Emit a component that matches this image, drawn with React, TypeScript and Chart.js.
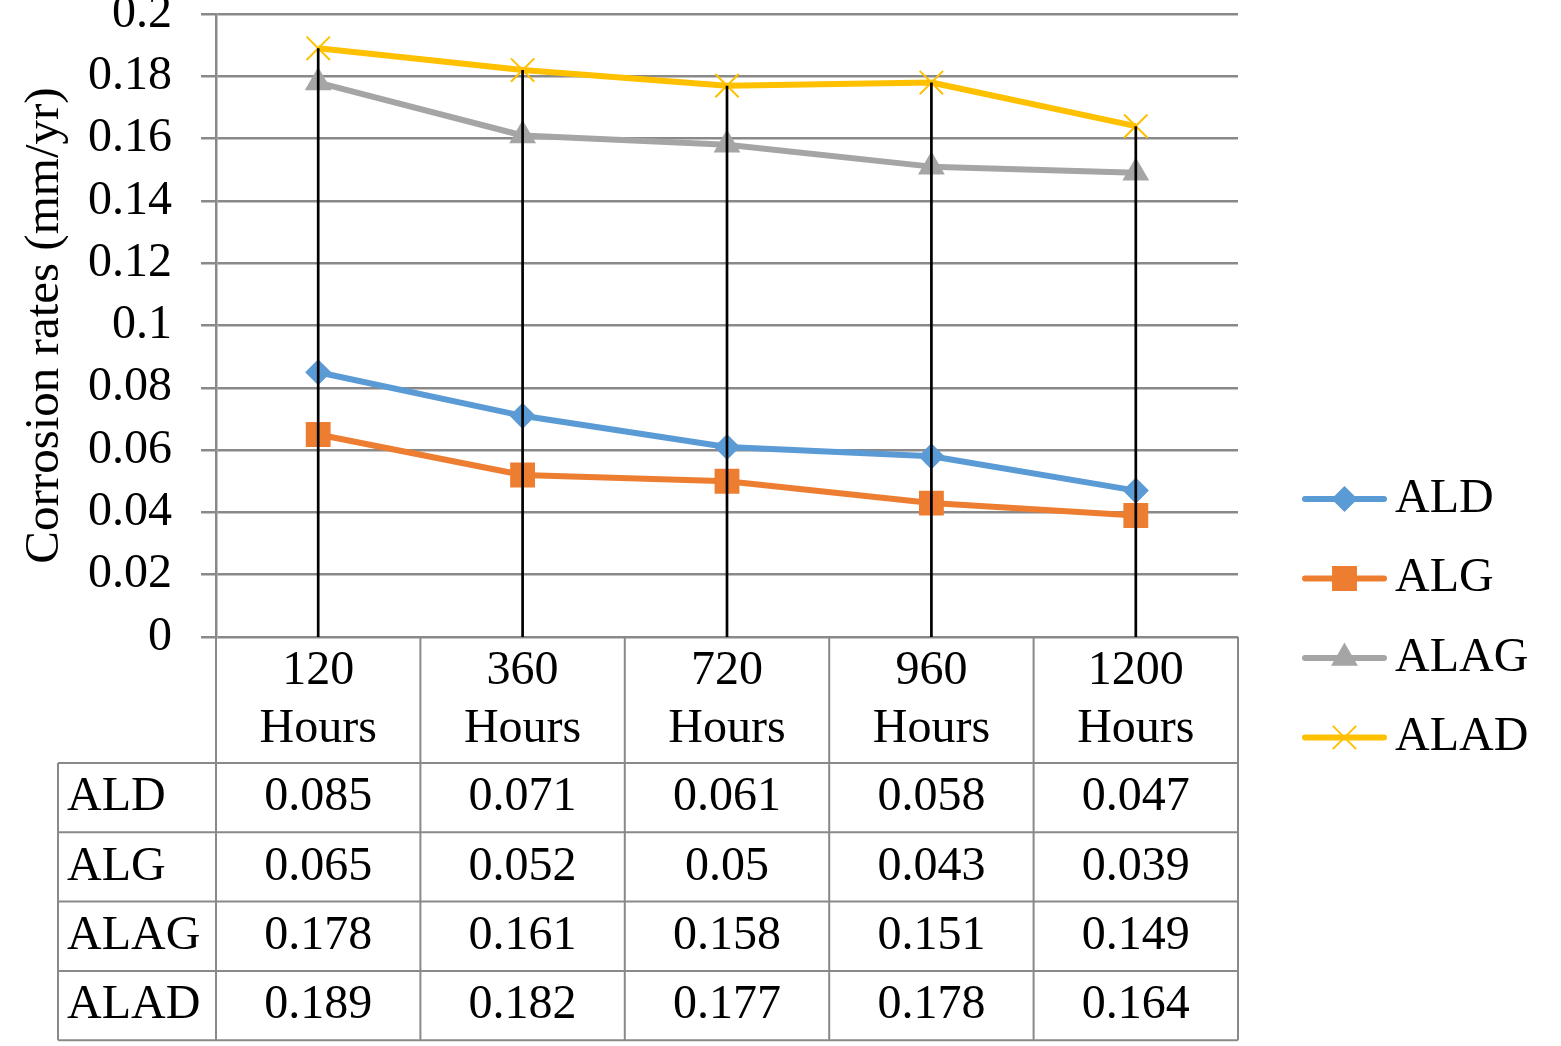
import { useEffect, useRef } from 'react';
import { Chart, registerables } from 'chart.js';
import { drawPoint } from 'chart.js/helpers';

Chart.register(...registerables);

// data
const categories = ['120 Hours', '360 Hours', '720 Hours', '960 Hours', '1200 Hours'];
const seriesNames = ['ALD', 'ALG', 'ALAG', 'ALAD'];
const ald = [0.085, 0.071, 0.061, 0.058, 0.047];
const alg = [0.065, 0.052, 0.05, 0.043, 0.039];
const alag = [0.178, 0.161, 0.158, 0.151, 0.149];
const alad = [0.189, 0.182, 0.177, 0.178, 0.164];
const yTickLabels = ['0', '0.02', '0.04', '0.06', '0.08', '0.1', '0.12', '0.14', '0.16', '0.18', '0.2'];
const yTitle = 'Corrosion rates (mm/yr)';

const seriesValues = [ald, alg, alag, alad];

const FONT_FAMILY = "'Liberation Serif', 'Times New Roman', serif";
const FONT_SIZE = 48;
const GRID = '#898989';

const seriesStyles = [
  { color: '#5B9BD5', pointStyle: 'rectRot', radius: 12, border: 1.5 },
  { color: '#ED7D31', pointStyle: 'rect', radius: 16.5, border: 1.5 },
  { color: '#A5A5A5', pointStyle: 'triangle', radius: 14, border: 1.5 },
  { color: '#FFC000', pointStyle: 'crossRot', radius: 16.5, border: 2 },
];

// drop lines from the highest point of each category down to zero
const dropLinesPlugin = {
  id: 'dropLines',
  afterDatasetsDraw(chart: any) {
    const { ctx, scales } = chart;
    const x = scales.x;
    const y = scales.y;
    ctx.save();
    ctx.strokeStyle = '#000000';
    ctx.lineWidth = 2.7;
    categories.forEach((_, i) => {
      const top = Math.max(...seriesValues.map((s) => s[i]));
      const px = x.getPixelForValue(i);
      ctx.beginPath();
      ctx.moveTo(px, y.getPixelForValue(top));
      ctx.lineTo(px, y.getPixelForValue(0));
      ctx.stroke();
    });
    ctx.restore();
  },
};

// data table under the plot + legend on the right
const tablePlugin = {
  id: 'dataTable',
  afterDraw(chart: any) {
    const { ctx, chartArea, scales } = chart;
    const x = scales.x;
    const half = (x.getPixelForValue(1) - x.getPixelForValue(0)) / 2;
    const top = chartArea.bottom;
    const headerBottom = top + 126;
    const rowH = 69.3;
    const tableLeft = 58;
    const left = chartArea.left;
    const right = chartArea.right;
    const bottom = headerBottom + rowH * seriesNames.length;

    ctx.save();
    ctx.strokeStyle = GRID;
    ctx.lineWidth = 2;

    // horizontal rules
    for (let r = 0; r <= seriesNames.length; r++) {
      const yy = headerBottom + rowH * r;
      ctx.beginPath();
      ctx.moveTo(tableLeft, yy);
      ctx.lineTo(right, yy);
      ctx.stroke();
    }
    // vertical rules
    ctx.beginPath();
    ctx.moveTo(tableLeft, headerBottom);
    ctx.lineTo(tableLeft, bottom);
    ctx.stroke();
    ctx.beginPath();
    ctx.moveTo(left, top);
    ctx.lineTo(left, bottom);
    ctx.stroke();
    categories.forEach((_, i) => {
      const xx = x.getPixelForValue(i) + half;
      ctx.beginPath();
      ctx.moveTo(xx, top);
      ctx.lineTo(xx, bottom);
      ctx.stroke();
    });

    ctx.fillStyle = '#000000';
    ctx.font = `${FONT_SIZE}px ${FONT_FAMILY}`;
    ctx.textBaseline = 'middle';

    // header
    ctx.textAlign = 'center';
    const headerMid = (top + headerBottom) / 2;
    categories.forEach((c, i) => {
      const lines = c.split(' ');
      const cx = x.getPixelForValue(i);
      lines.forEach((ln, k) => {
        ctx.fillText(ln, cx, headerMid + (k - (lines.length - 1) / 2) * 58);
      });
    });

    // rows
    seriesNames.forEach((name, r) => {
      const cy = headerBottom + rowH * (r + 0.5);
      ctx.textAlign = 'left';
      ctx.fillText(name, tableLeft + 9, cy);
      ctx.textAlign = 'center';
      seriesValues[r].forEach((v, i) => {
        ctx.fillText(String(v), x.getPixelForValue(i), cy);
      });
    });

    // legend
    const lx0 = 1305;
    const lx1 = 1384;
    const ly0 = 499;
    const lStep = 79.5;
    seriesNames.forEach((name, r) => {
      const st = seriesStyles[r];
      const ly = ly0 + lStep * r;
      ctx.strokeStyle = st.color;
      ctx.fillStyle = st.color;
      ctx.lineWidth = 6;
      ctx.lineCap = 'round';
      ctx.beginPath();
      ctx.moveTo(lx0, ly);
      ctx.lineTo(lx1, ly);
      ctx.stroke();
      ctx.lineWidth = st.border;
      ctx.lineCap = 'butt';
      drawPoint(ctx, { pointStyle: st.pointStyle, radius: st.radius, rotation: 0, borderWidth: st.border } as any, (lx0 + lx1) / 2, ly);
      ctx.fillStyle = '#000000';
      ctx.textAlign = 'left';
      ctx.fillText(name, 1395, ly);
    });

    ctx.restore();
  },
};

export default function App() {
  const canvasRef = useRef<HTMLCanvasElement>(null);
  const chartRef = useRef<Chart | null>(null);

  useEffect(() => {
    if (!canvasRef.current) return;
    if (chartRef.current) chartRef.current.destroy();

    chartRef.current = new Chart(canvasRef.current, {
      type: 'line',
      data: {
        labels: categories,
        datasets: seriesNames.map((name, i) => ({
          label: name,
          data: seriesValues[i],
          order: -i, // later series on top, like the original
          borderColor: seriesStyles[i].color,
          backgroundColor: seriesStyles[i].color,
          borderWidth: 6,
          borderJoinStyle: 'round' as const,
          tension: 0,
          fill: false,
          pointStyle: seriesStyles[i].pointStyle as any,
          pointRadius: seriesStyles[i].radius,
          pointHoverRadius: seriesStyles[i].radius,
          pointBackgroundColor: seriesStyles[i].color,
          pointBorderColor: seriesStyles[i].color,
          pointBorderWidth: seriesStyles[i].border,
        })),
      },
      options: {
        responsive: true,
        maintainAspectRatio: false,
        animation: false,
        layout: { autoPadding: false, padding: { left: 0, top: 14, right: 323, bottom: 409 } },
        plugins: {
          legend: { display: false },
          tooltip: { enabled: false },
        },
        scales: {
          x: {
            type: 'category',
            offset: true,
            grid: { display: false },
            border: { display: false },
            ticks: { display: false },
            afterFit: (s: any) => {
              s.height = 0;
              s.paddingLeft = 0;
              s.paddingRight = 0;
            },
          },
          y: {
            min: 0,
            max: 0.2,
            ticks: {
              stepSize: 0.02,
              color: '#000000',
              padding: 29,
              font: { size: FONT_SIZE, family: FONT_FAMILY },
              callback: (_v: any, i: number) => yTickLabels[i],
              autoSkip: false,
            },
            grid: { color: GRID, lineWidth: 2.5, tickLength: 15, drawTicks: true },
            border: { color: GRID, width: 2.5 },
            title: {
              display: true,
              text: yTitle,
              color: '#000000',
              font: { size: 49, family: FONT_FAMILY },
              padding: { top: 16, bottom: 0 },
            },
            afterFit: (s: any) => {
              s.width = 216;
              s.paddingTop = 0;
              s.paddingBottom = 0;
            },
          },
        },
      },
      plugins: [dropLinesPlugin, tablePlugin],
    });

    return () => {
      if (chartRef.current) {
        chartRef.current.destroy();
        chartRef.current = null;
      }
    };
  }, []);

  return (
    <div style={{ position: 'absolute', left: 0, top: 0, width: 1561, height: 1046, background: '#ffffff' }}>
      <canvas ref={canvasRef} />
    </div>
  );
}
